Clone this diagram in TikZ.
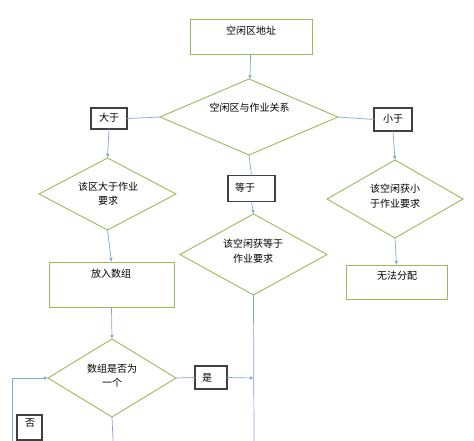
\documentclass[tikz,border=0pt]{standalone}
\usepackage{fontspec}
\newfontfamily\cjk{Noto Sans CJK SC}
\usetikzlibrary{shapes.geometric,arrows.meta}
\definecolor{boxgreen}{HTML}{9BBB59}
\definecolor{lineblue}{HTML}{7FA7D8}

\begin{document}
\begin{tikzpicture}[x=1pt,y=-1pt,
      every node/.append style={font=\cjk\fontsize{10}{14.5}\selectfont,inner sep=0pt,outer sep=0pt,align=center},
      link/.style={draw=lineblue,line width=0.7pt},
      arr/.style={link,-{Latex[length=4pt,width=3.5pt]}}]
    \tikzstyle{box} = [draw=boxgreen,line width=0.9pt,rectangle]
    \tikzstyle{dia} = [draw=boxgreen,line width=0.9pt,diamond]
    \tikzstyle{tag} = [draw=black!75,line width=1.1pt,rectangle]
    \useasboundingbox (0,0) rectangle (474,441);
    % shapes
    \node (start) [box,minimum width=122pt,minimum height=35pt] at (251,36.5) {};
    \node (rel) [dia,minimum width=178pt,minimum height=76pt] at (249,117) {};
    \node (gt) [tag,minimum width=36pt,minimum height=21pt] at (109,118.5) {};
    \node (lt) [tag,minimum width=38pt,minimum height=23pt] at (393,119.5) {};
    \node (eq) [tag,minimum width=47pt,minimum height=26pt] at (251.5,188.5) {};
    \node (big) [dia,minimum width=137pt,minimum height=72pt] at (107.5,194) {};
    \node (same) [dia,minimum width=147pt,minimum height=81pt] at (253.5,254.5) {};
    \node (small) [dia,minimum width=136pt,minimum height=78pt] at (395,199) {};
    \node (put) [box,minimum width=125pt,minimum height=45pt] at (111.5,284.5) {};
    \node (nofit) [box,minimum width=101pt,minimum height=34pt] at (396.5,282) {};
    \node (one) [dia,minimum width=128pt,minimum height=78pt] at (112,378) {};
    \node (yes) [tag,minimum width=32pt,minimum height=23pt] at (211,377.5) {};
    \node (no) [tag,minimum width=25pt,minimum height=25pt] at (29.5,427.5) {};
    % texts
    \node (startt) at (251,31) {空闲区地址};
    \node (relt) at (249.5,108) {空闲区与作业关系};
    \node (gtt) at (109,118) {大于};
    \node (ltt) at (393,119) {小于};
    \node (eqt) at (245,188) {等于};
    \node (bigt) at (108,193.5) {该区大于作业\\要求};
    \node (samet) at (253,251) {该空闲获等于\\作业要求};
    \node (smallt) at (395,196) {该空闲获小\\于作业要求};
    \node (putt) at (111,274) {放入数组};
    \node (nofitt) at (397,276) {无法分配};
    \node (onet) at (112,375.5) {数组是否为\\一个};
    \node (yest) at (207,378) {是};
    \node (not) at (30,423) {否};
    % connectors
    \coordinate (sameend) at (254,441);
    \coordinate (join) at (254,378);
    \coordinate (oneend) at (113,441);
    \coordinate (loop) at (12,441);
    \draw[arr] (start) -- (rel);
    \draw[link] (rel.west) -- (gt.east);
    \draw[link] (rel.east) -- (lt.west);
    \draw[arr] (gt.south) -- (big.north);
    \draw[link] (rel.south) -- (eq.north);
    \draw[arr] (eq.south) -- (same.north);
    \draw[link] (same.south) -- (sameend);
    \draw[arr] (lt.south) -- (small.north);
    \draw[arr] (small.south) -- (nofit.north);
    \draw[arr] (big.south) -- (put.north);
    \draw[arr] (put.south) -- (one.north);
    \draw[link] (one.east) -- (yes.west);
    \draw[arr] (yes.east) -- (join);
    \draw[link] (one.south) -- (oneend);
    \draw[arr] (loop) |- (one.west);
\end{tikzpicture}
\end{document}
